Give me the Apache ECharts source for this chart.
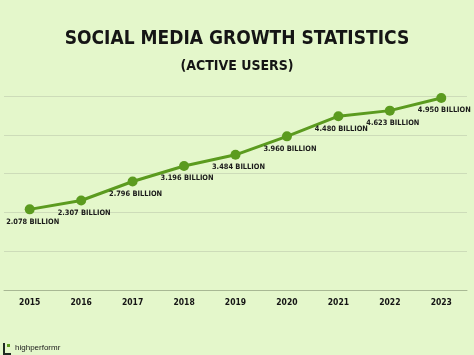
<!DOCTYPE html>
<html>
<head>
<meta charset="utf-8">
<script src="https://cdn.jsdelivr.net/npm/echarts@6/dist/echarts.min.js"></script>
<style>
html,body{margin:0;padding:0;background:#e4f7cb;}
#chart{width:474px;height:355px;}
</style>
</head>
<body>
<div id="chart"></div>
<script>
const years = ['2015','2016','2017','2018','2019','2020','2021','2022','2023'];
const activeUsers = [2.078, 2.307, 2.796, 3.196, 3.484, 3.960, 4.480, 4.623, 4.950];
const titleText = 'SOCIAL MEDIA GROWTH STATISTICS';
const subtitleText = '(ACTIVE USERS)';
const brandText = 'highperformr';

const narrow = '"Liberation Sans Narrow", "DejaVu Sans Condensed", sans-serif';
const chart = echarts.init(document.getElementById('chart'), null, {renderer: 'canvas'});
chart.setOption({
  backgroundColor: '#e4f7cb',
  animation: false,
  title: [
    {text: titleText, left: 'center', top: 25,
     textStyle: {fontFamily: narrow, fontWeight: 'bold', fontSize: 19, color: '#151515'}},
    {text: subtitleText, left: 'center', top: 54,
     textStyle: {fontFamily: narrow, fontWeight: 'bold', fontSize: 14, color: '#151515'}}
  ],
  grid: {left: 4, right: 7, top: 96, bottom: 65, containLabel: false},
  xAxis: {
    type: 'category', data: years, boundaryGap: true,
    axisLine: {lineStyle: {color: '#a8b894', width: 1}},
    axisTick: {show: false},
    axisLabel: {fontFamily: narrow, fontWeight: 'bold', fontSize: 8.5, color: '#151515', margin: 8}
  },
  yAxis: {
    type: 'value', min: 0, max: 5, interval: 1,
    axisLabel: {show: false}, axisLine: {show: false}, axisTick: {show: false},
    splitLine: {lineStyle: {color: '#cddcb9', width: 1}}
  },
  series: [{
    type: 'line', data: activeUsers,
    symbol: 'circle', symbolSize: 10,
    lineStyle: {color: '#5b9b1f', width: 3},
    itemStyle: {color: '#5b9b1f'},
    label: {show: true, position: 'bottom', distance: 4, offset: [3, 0],
      formatter: p => p.value.toFixed(3) + ' BILLION',
      fontFamily: narrow, fontWeight: 'bold', fontSize: 7.4, color: '#1a1a1a'}
  }],
  graphic: [
    {type: 'rect', left: 3, top: 343, shape: {width: 2, height: 12}, style: {fill: '#1e2a22'}},
    {type: 'rect', left: 3, top: 353, shape: {width: 8, height: 2}, style: {fill: '#1e2a22'}},
    {type: 'rect', left: 7, top: 344, shape: {width: 3, height: 3}, style: {fill: '#5b9b1f'}},
    {type: 'text', left: 15, top: 344,
     style: {text: brandText, font: '8px "Liberation Sans", sans-serif', fill: '#1a1a1a'}}
  ]
});
</script>
</body>
</html>
